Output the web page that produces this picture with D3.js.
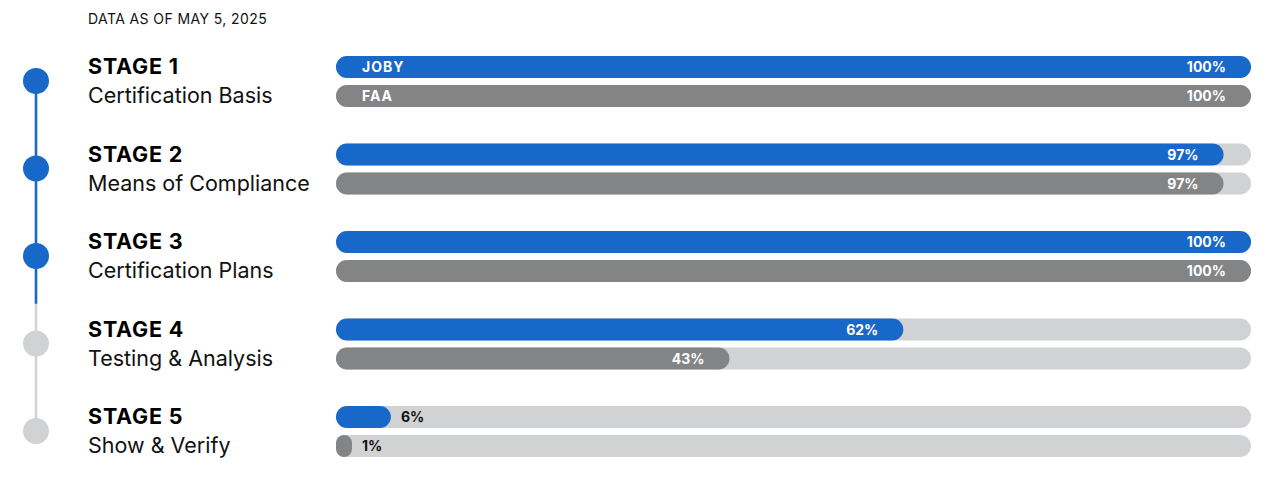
<!DOCTYPE html>
<html>
<head>
<meta charset="utf-8">
<script src="https://cdn.jsdelivr.net/npm/d3@7"></script>
<style>
  body { margin: 0; background: #fff; }
  svg { display: block; font-family: Inter, "Noto Sans", sans-serif; }
</style>
</head>
<body>
<figure style="margin:0"></figure>
<script>
const stages = ["STAGE 1", "STAGE 2", "STAGE 3", "STAGE 4", "STAGE 5"];
const stageNames = ["Certification Basis", "Means of Compliance", "Certification Plans", "Testing & Analysis", "Show & Verify"];
const joby = [100, 97, 100, 62, 6];
const faa = [100, 97, 100, 43, 1];
const seriesNames = ["JOBY", "FAA"];
const completedStages = 3;

const blue = "#1868c9";
const grey = "#838486";
const track = "#d1d2d4";

const width = 1280;
const height = 486;

const svg = d3.select("figure").append("svg").attr("width", width).attr("height", height);

svg.append("text")
  .attr("x", 88)
  .attr("y", 24)
  .attr("font-size", 14)
  .attr("letter-spacing", 0.4)
  .attr("fill", "#111")
  .text("DATA AS OF MAY 5, 2025");

const y = d3.scaleBand().domain(stages).range([52, 489.5]).paddingInner(0);
const x = d3.scaleLinear().domain([0, 100]).range([336, 1251]);
const barH = 22;
const barGap = 7;

// timeline
const dotY = (s) => y(s) + 29;
const lineX = 36;
svg.append("line")
  .attr("x1", lineX).attr("x2", lineX)
  .attr("y1", dotY(stages[0])).attr("y2", dotY(stages[stages.length - 1]))
  .attr("stroke", track).attr("stroke-width", 2.5);
svg.append("line")
  .attr("x1", lineX).attr("x2", lineX)
  .attr("y1", dotY(stages[0]))
  .attr("y2", (dotY(stages[completedStages - 1]) + dotY(stages[completedStages])) / 2 + 4)
  .attr("stroke", blue).attr("stroke-width", 2.5);
svg.selectAll("circle.dot")
  .data(stages)
  .join("circle")
  .attr("class", "dot")
  .attr("cx", lineX)
  .attr("cy", dotY)
  .attr("r", 13)
  .attr("fill", (d, i) => (i < completedStages ? blue : track));

const rows = svg.selectAll("g.row")
  .data(stages)
  .join("g")
  .attr("class", "row")
  .attr("transform", (d) => `translate(0, ${y(d)})`);

rows.append("text")
  .attr("x", 88).attr("y", 22)
  .attr("font-size", 21.5).attr("font-weight", 700)
  .attr("letter-spacing", 0.8)
  .attr("fill", "#000")
  .text((d) => d);

rows.append("text")
  .attr("x", 88).attr("y", 51)
  .attr("font-size", 21.5)
  .attr("fill", "#111")
  .text((d, i) => stageNames[i]);

function drawBar(sel, values, color, offset, name) {
  sel.append("rect")
    .attr("x", x(0)).attr("y", offset)
    .attr("width", x(100) - x(0)).attr("height", barH)
    .attr("rx", barH / 2)
    .attr("fill", track);

  sel.append("rect")
    .attr("x", x(0)).attr("y", offset)
    .attr("width", (d, i) => Math.max(x(values[i]) - x(0), 16))
    .attr("height", barH)
    .attr("rx", (d, i) => Math.min(barH / 2, Math.max(x(values[i]) - x(0), 16) / 2))
    .attr("fill", color);

  sel.append("text")
    .attr("x", (d, i) => {
      const v = values[i];
      const end = Math.max(x(v), x(0) + 16);
      return v > 20 ? end - 25 : end + 10;
    })
    .attr("y", offset + barH / 2 + 5)
    .attr("text-anchor", (d, i) => (values[i] > 20 ? "end" : "start"))
    .attr("font-size", 14).attr("font-weight", 700)
    .attr("fill", (d, i) => (values[i] > 20 ? "#fff" : "#111"))
    .text((d, i) => `${values[i]}%`);

  sel.filter((d, i) => i === 0)
    .append("text")
    .attr("x", 362)
    .attr("y", offset + barH / 2 + 5)
    .attr("font-size", 14).attr("font-weight", 700)
    .attr("letter-spacing", 1)
    .attr("fill", "#fff")
    .text(name);
}

drawBar(rows, joby, blue, 4, seriesNames[0]);
drawBar(rows, faa, grey, 4 + barH + barGap, seriesNames[1]);
</script>
</body>
</html>
